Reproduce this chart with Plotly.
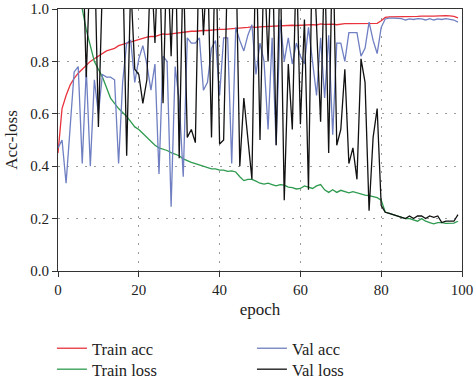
import plotly.graph_objects as go

epochs = list(range(100))

train_acc = [0.45, 0.62, 0.67, 0.71, 0.735, 0.755, 0.77, 0.785, 0.80, 0.81,
             0.82, 0.83, 0.84, 0.845, 0.85, 0.86, 0.865, 0.87, 0.875, 0.88,
             0.885, 0.89, 0.893, 0.895, 0.895, 0.90, 0.905, 0.903, 0.905, 0.907,
             0.91, 0.912, 0.912, 0.915, 0.915, 0.917, 0.918, 0.918, 0.92, 0.92,
             0.922, 0.922, 0.923, 0.925, 0.925, 0.926, 0.928, 0.93, 0.932, 0.93,
             0.932, 0.933, 0.934, 0.935, 0.934, 0.936, 0.936, 0.937, 0.938, 0.937,
             0.938, 0.939, 0.94, 0.94, 0.939, 0.943, 0.941, 0.942, 0.942, 0.94,
             0.943, 0.944, 0.944, 0.944, 0.944, 0.945, 0.945, 0.945, 0.944, 0.945,
             0.955, 0.968, 0.97, 0.97, 0.97, 0.971, 0.971, 0.972, 0.972, 0.972,
             0.973, 0.972, 0.973, 0.973, 0.974, 0.974, 0.975, 0.974, 0.972, 0.966]

train_loss = [1.3, 1.2, 1.12, 1.08, 1.04, 1.02, 1.0, 0.92, 0.86, 0.80,
              0.77, 0.74, 0.70, 0.66, 0.64, 0.62, 0.605, 0.59, 0.57, 0.55,
              0.54, 0.525, 0.51, 0.495, 0.48, 0.47, 0.465, 0.46, 0.452, 0.445,
              0.44, 0.428, 0.42, 0.415, 0.41, 0.405, 0.40, 0.395, 0.39, 0.39,
              0.385, 0.385, 0.38, 0.382, 0.378, 0.36, 0.345, 0.35, 0.35, 0.343,
              0.335, 0.332, 0.335, 0.33, 0.325, 0.33, 0.328, 0.32, 0.318, 0.313,
              0.315, 0.325, 0.32, 0.315, 0.325, 0.33, 0.31, 0.30, 0.31, 0.30,
              0.308, 0.302, 0.298, 0.303, 0.298, 0.296, 0.29, 0.288, 0.285, 0.28,
              0.27, 0.225, 0.22, 0.215, 0.21, 0.205, 0.20, 0.20, 0.195, 0.19,
              0.20, 0.19, 0.185, 0.18, 0.185, 0.185, 0.182, 0.183, 0.183, 0.19]

val_acc = [0.47, 0.50, 0.335, 0.55, 0.76, 0.78, 0.41, 0.77, 0.40, 0.73,
           0.60, 0.75, 0.74, 0.74, 0.73, 0.41, 0.72, 0.87, 0.88, 0.72,
           0.81, 0.86, 0.79, 0.69, 0.79, 0.37, 0.82, 0.80, 0.245, 0.78,
           0.65, 0.36, 0.89, 0.87, 0.87, 0.89, 0.69, 0.72, 0.85, 0.88,
           0.67, 0.89, 0.89, 0.41, 0.93, 0.88, 0.84, 0.90, 0.94, 0.75,
           0.87, 0.80, 0.54, 0.89, 0.48, 0.96, 0.80, 0.89, 0.79, 0.87,
           0.82, 0.79, 0.93, 0.80, 0.67, 0.89, 0.66, 0.90, 0.52, 0.87,
           0.87, 0.80, 0.91, 0.91, 0.91, 0.82, 0.85, 0.95, 0.88, 0.83,
           0.93, 0.962, 0.965, 0.965, 0.964, 0.963, 0.958, 0.962, 0.96, 0.963,
           0.962, 0.958, 0.963, 0.958, 0.962, 0.96, 0.963, 0.961, 0.958, 0.95]

val_loss = [1.5, 1.4, 1.6, 1.3, 1.25, 1.1, 1.3, 0.74, 1.2, 1.25,
            0.55, 1.1, 1.2, 1.05, 1.3, 1.15, 1.2, 0.44, 1.1, 0.77,
            0.75, 0.64, 0.73, 1.2, 0.87, 1.3, 0.64, 1.25, 0.82, 1.3,
            0.43, 1.2, 0.51, 0.54, 0.49, 1.3, 0.9, 1.2, 0.51, 1.3,
            0.485, 0.50, 1.2, 1.3, 1.25, 0.40, 0.66, 0.50, 0.35, 1.3,
            0.50, 1.2, 0.80, 1.3, 0.48, 1.2, 0.27, 0.79, 0.54, 1.2,
            0.56, 0.96, 0.31, 1.3, 0.90, 0.57, 1.2, 0.45, 1.3, 0.48,
            0.54, 0.77, 0.41, 0.47, 0.35, 0.81, 0.72, 0.23, 0.51, 0.62,
            0.25, 0.224, 0.22, 0.215, 0.21, 0.205, 0.20, 0.21, 0.20, 0.21,
            0.21, 0.20, 0.21, 0.205, 0.21, 0.185, 0.19, 0.19, 0.19, 0.215]

x_ticks = [0, 20, 40, 60, 80, 100]
y_ticks = [0.0, 0.2, 0.4, 0.6, 0.8, 1.0]

FONT = "Liberation Serif"
TXT = "#222222"

fig = go.Figure()
# legend row 1: Train acc, Val acc ; row 2: Train loss, Val loss
fig.add_trace(go.Scatter(x=epochs, y=train_acc, mode="lines", name="Train acc",
                         line=dict(color="#e8333d", width=1.3), legend="legend"))
fig.add_trace(go.Scatter(x=epochs, y=train_loss, mode="lines", name="Train loss",
                         line=dict(color="#2e9a4f", width=1.3), legend="legend2"))
fig.add_trace(go.Scatter(x=epochs, y=val_acc, mode="lines", name="Val acc",
                         line=dict(color="#6f7fc2", width=1.3), legend="legend"))
fig.add_trace(go.Scatter(x=epochs, y=val_loss, mode="lines", name="Val loss",
                         line=dict(color="#111111", width=1.3), legend="legend2"))

axis_common = dict(
    showline=True, linecolor="#333333", linewidth=1, mirror=True,
    ticks="outside", ticklen=5, tickcolor="#333333",
    showgrid=True, gridcolor="#9a9a9a", gridwidth=1, griddash="2px,7px",
    zeroline=False, automargin=False,
    tickfont=dict(family=FONT, size=15, color=TXT),
)

fig.update_xaxes(range=[0, 100], tickvals=x_ticks, ticktext=[str(v) for v in x_ticks],
                 title=dict(text="epoch", font=dict(family=FONT, size=17, color=TXT), standoff=6),
                 **axis_common)
fig.update_yaxes(range=[0, 1.0], tickvals=y_ticks, ticktext=[f"{v:.1f}" for v in y_ticks],
                 title=dict(text="Acc-loss", font=dict(family=FONT, size=17, color=TXT), standoff=8),
                 **axis_common)

legend_common = dict(
    orientation="h", xref="paper", yref="paper", yanchor="top", xanchor="left",
    bgcolor="rgba(0,0,0,0)", font=dict(family=FONT, size=16.5, color=TXT),
    tracegroupgap=0, itemwidth=30, entrywidth=155, traceorder="normal",
)

fig.update_layout(
    width=474, height=379,
    margin=dict(l=58, r=12, t=9, b=108, autoexpand=False),
    paper_bgcolor="white", plot_bgcolor="white",
    showlegend=True,
    legend=dict(x=-0.015, y=-0.229, **legend_common),
    legend2=dict(x=-0.015, y=-0.309, **legend_common),
)

fig.write_html("out.html", config={"displayModeBar": False},
               post_script="document.body.style.margin='0';document.body.style.padding='0';")
